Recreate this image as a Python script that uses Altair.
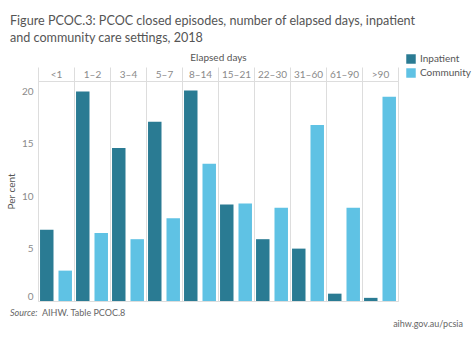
import altair as alt
import pandas as pd

categories = ["<1", "1–2", "3–4", "5–7", "8–14", "15–21", "22–30", "31–60", "61–90", ">90"]
inpatient = [6.8, 20.0, 14.6, 17.1, 20.1, 9.2, 5.9, 5.0, 0.7, 0.3]
community = [2.9, 6.5, 5.9, 7.9, 13.1, 9.3, 8.9, 16.8, 8.9, 19.5]
settings = ["Inpatient", "Community"]
colors = ["#2a7b93", "#5fc2e4"]

rows = []
for c, a, b in zip(categories, inpatient, community):
    rows.append({"days": c, "setting": "Inpatient", "pct": a})
    rows.append({"days": c, "setting": "Community", "pct": b})
df = pd.DataFrame(rows)

FONT = "Lato"
W, H = 360, 220

bars = alt.Chart(df).mark_bar().encode(
    x=alt.X("days:N", sort=categories,
            scale=alt.Scale(paddingInner=0, paddingOuter=0),
            axis=alt.Axis(orient="top", title="Elapsed days", tickBand="extent",
                          grid=True, gridColor="#dddddd", tickColor="#dddddd",
                          tickSize=14, domainColor="#dddddd", labelAngle=0,
                          labelBaseline="middle", labelPadding=-7,
                          labelColor="#8a8a8a", labelFontSize=10, labelFont=FONT,
                          titleFont=FONT, titleFontSize=10, titleFontWeight="normal",
                          titleColor="#555555", titlePadding=4)),
    xOffset=alt.XOffset("setting:N", sort=settings,
                        scale=alt.Scale(paddingInner=0.27, paddingOuter=0.11)),
    y=alt.Y("pct:Q", scale=alt.Scale(domain=[0, 21], nice=False),
            axis=alt.Axis(values=[0, 5, 10, 15, 20], title="Per cent", grid=False,
                          ticks=False, domain=False, labelPadding=5, labelFlush=True,
                          labelColor="#8a8a8a", labelFontSize=10, labelFont=FONT,
                          titleFont=FONT, titleFontSize=10, titleFontWeight="normal",
                          titleColor="#555555", titlePadding=5)),
    color=alt.Color("setting:N", sort=settings,
                    scale=alt.Scale(domain=settings, range=colors),
                    legend=alt.Legend(title=None, orient="none", legendX=368, legendY=-27,
                                      symbolType="square", symbolSize=90,
                                      symbolStrokeWidth=0, labelFont=FONT,
                                      labelFontSize=10, labelColor="#555555",
                                      rowPadding=4)),
)

src1 = alt.Chart(pd.DataFrame({"t": ["Source:"]})).mark_text(
    align="left", baseline="alphabetic", font=FONT, fontSize=9, fontStyle="italic",
    color="#666666").encode(text="t:N", x=alt.value(-28), y=alt.value(235))
src2 = alt.Chart(pd.DataFrame({"t": ["AIHW. Table PCOC.8"]})).mark_text(
    align="left", baseline="alphabetic", font=FONT, fontSize=9,
    color="#666666").encode(text="t:N", x=alt.value(4), y=alt.value(235))
site = alt.Chart(pd.DataFrame({"t": ["aihw.gov.au/pcsia"]})).mark_text(
    align="right", baseline="alphabetic", font=FONT, fontSize=9,
    color="#666666").encode(text="t:N", x=alt.value(425), y=alt.value(246))

chart = alt.layer(bars, src1, src2, site).properties(
    width=W, height=H,
    autosize=alt.AutoSizeParams(type="none"),
    padding={"left": 38, "top": 81, "right": 76, "bottom": 37},
    title=alt.TitleParams(
        text=["Figure PCOC.3: PCOC closed episodes, number of elapsed days, inpatient",
              "and community care settings, 2018"],
        anchor="start", frame="group", font=FONT, fontSize=12.6, fontWeight="normal",
        color="#555555", dx=-28, offset=8, lineHeight=17),
).configure_view(stroke=None).configure(background="white")

chart.save("out.html", embed_options={"renderer": "svg", "actions": False})
